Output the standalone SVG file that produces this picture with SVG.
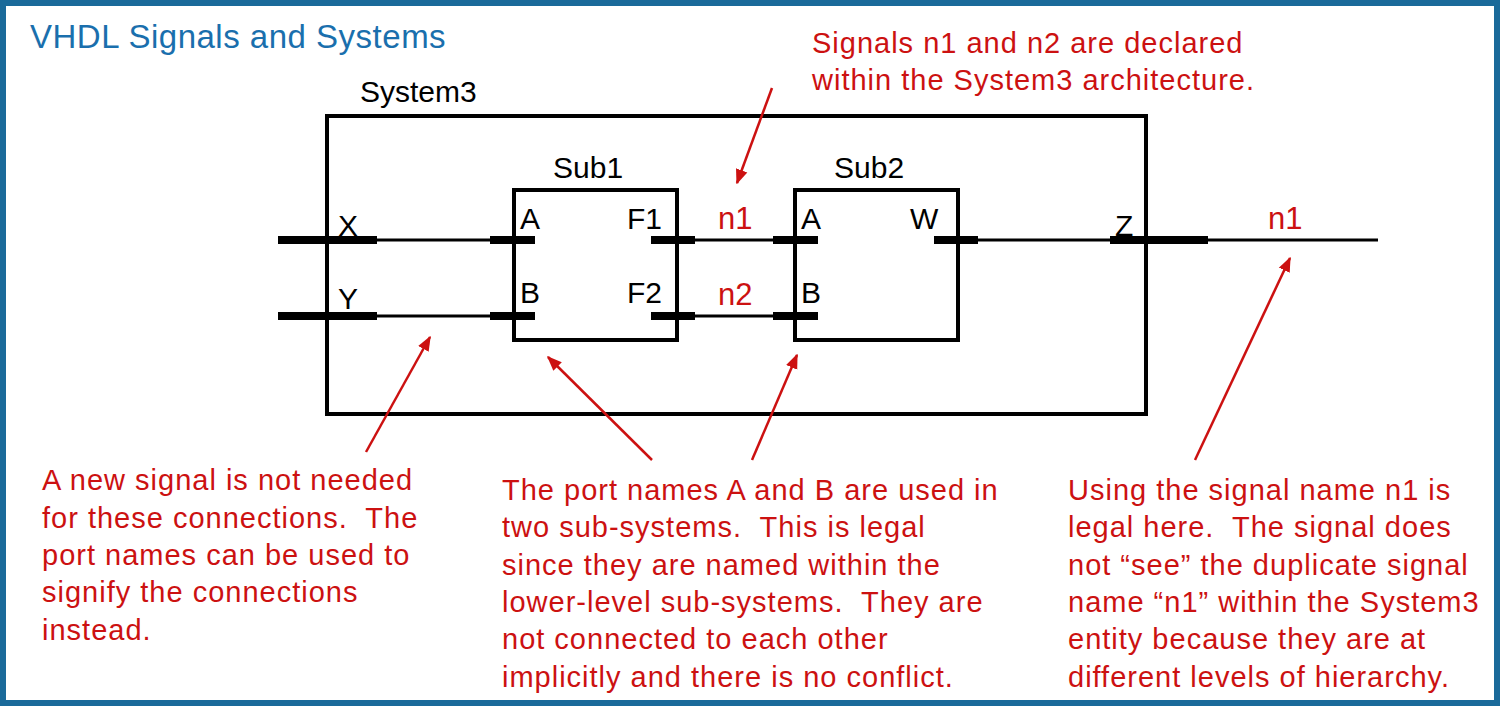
<svg xmlns="http://www.w3.org/2000/svg" width="1500" height="706" viewBox="0 0 1500 706">
<defs>
<style>
text{font-family:"Liberation Sans",Arial,sans-serif;white-space:pre}
.blk{font-size:30px;fill:#000}
.red{font-size:29px;fill:#cc1111;letter-spacing:1px}
.sig{font-size:31px;fill:#cc1111}
.box{fill:none;stroke:#000;stroke-width:4}
.w{stroke:#000;stroke-width:3}
.p{stroke:#000;stroke-width:8}
.arr{stroke:#cc1111;stroke-width:2.5;fill:none;marker-end:url(#ah)}
</style>
<marker id="ah" viewBox="0 0 10 10" refX="9" refY="5" markerWidth="6" markerHeight="6" orient="auto"><path d="M0,1 L10,5 L0,9 z" fill="#cc1111"/></marker>
</defs>
<rect x="0" y="0" width="1500" height="706" fill="#fff"/>
<rect x="3" y="3" width="1494" height="700" fill="none" stroke="#1a6a9a" stroke-width="6"/>
<text x="30" y="48" font-size="33" fill="#1a6fad" letter-spacing="0.5">VHDL Signals and Systems</text>
<g id="system3"><rect class="box" x="327" y="116" width="819" height="298"/><text class="blk" x="360" y="102">System3</text>
<text class="blk" x="338" y="236">X</text><text class="blk" x="338" y="309">Y</text><text class="blk" x="1115" y="236">Z</text></g>
<g id="sub1"><rect class="box" x="514" y="190" width="163" height="150"/><text class="blk" x="553" y="178">Sub1</text>
<text class="blk" x="520" y="229">A</text><text class="blk" x="520" y="303">B</text><text class="blk" x="627" y="229">F1</text><text class="blk" x="627" y="303">F2</text></g>
<g id="sub2"><rect class="box" x="795" y="190" width="163" height="150"/><text class="blk" x="834" y="178">Sub2</text>
<text class="blk" x="801" y="229">A</text><text class="blk" x="801" y="303">B</text><text class="blk" x="910" y="229">W</text></g>
<g id="connectors">
<line class="p" x1="278" y1="240" x2="377" y2="240"/><line class="w" x1="377" y1="240" x2="490" y2="240"/><line class="p" x1="490" y1="240" x2="535" y2="240"/>
<line class="p" x1="278" y1="316" x2="377" y2="316"/><line class="w" x1="377" y1="316" x2="490" y2="316"/><line class="p" x1="490" y1="316" x2="535" y2="316"/>
<line class="p" x1="651" y1="240" x2="695" y2="240"/><line class="w" x1="695" y1="240" x2="773" y2="240"/><line class="p" x1="773" y1="240" x2="818" y2="240"/>
<line class="p" x1="651" y1="316" x2="695" y2="316"/><line class="w" x1="695" y1="316" x2="773" y2="316"/><line class="p" x1="773" y1="316" x2="818" y2="316"/>
<line class="p" x1="934" y1="240" x2="978" y2="240"/><line class="w" x1="978" y1="240" x2="1110" y2="240"/><line class="p" x1="1110" y1="240" x2="1208" y2="240"/><line class="w" x1="1208" y1="240" x2="1378" y2="240"/>
<line class="arr" x1="772" y1="88" x2="737" y2="183"/>
<line class="arr" x1="366" y1="452" x2="430" y2="337"/>
<line class="arr" x1="652" y1="460" x2="548" y2="357"/>
<line class="arr" x1="752" y1="460" x2="797" y2="355"/>
<line class="arr" x1="1195" y1="460" x2="1290" y2="258"/>
</g>
<text class="sig" x="718" y="229">n1</text><text class="sig" x="718" y="305">n2</text><text class="sig" x="1268" y="229">n1</text>
<g class="red">
<text x="812" y="53">Signals n1 and n2 are declared</text>
<text x="812" y="90">within the System3 architecture.</text>
<text x="42" y="490">A new signal is not needed</text>
<text x="42" y="528">for these connections.  The</text>
<text x="42" y="565">port names can be used to</text>
<text x="42" y="602">signify the connections</text>
<text x="42" y="640">instead.</text>
<text x="502" y="500">The port names A and B are used in</text>
<text x="502" y="537">two sub-systems.  This is legal</text>
<text x="502" y="575">since they are named within the</text>
<text x="502" y="612">lower-level sub-systems.  They are</text>
<text x="502" y="649">not connected to each other</text>
<text x="502" y="687">implicitly and there is no conflict.</text>
<text x="1068" y="500">Using the signal name n1 is</text>
<text x="1068" y="537">legal here.  The signal does</text>
<text x="1068" y="575">not “see” the duplicate signal</text>
<text x="1068" y="612">name “n1” within the System3</text>
<text x="1068" y="649">entity because they are at</text>
<text x="1068" y="687">different levels of hierarchy.</text>
</g>
</svg>
